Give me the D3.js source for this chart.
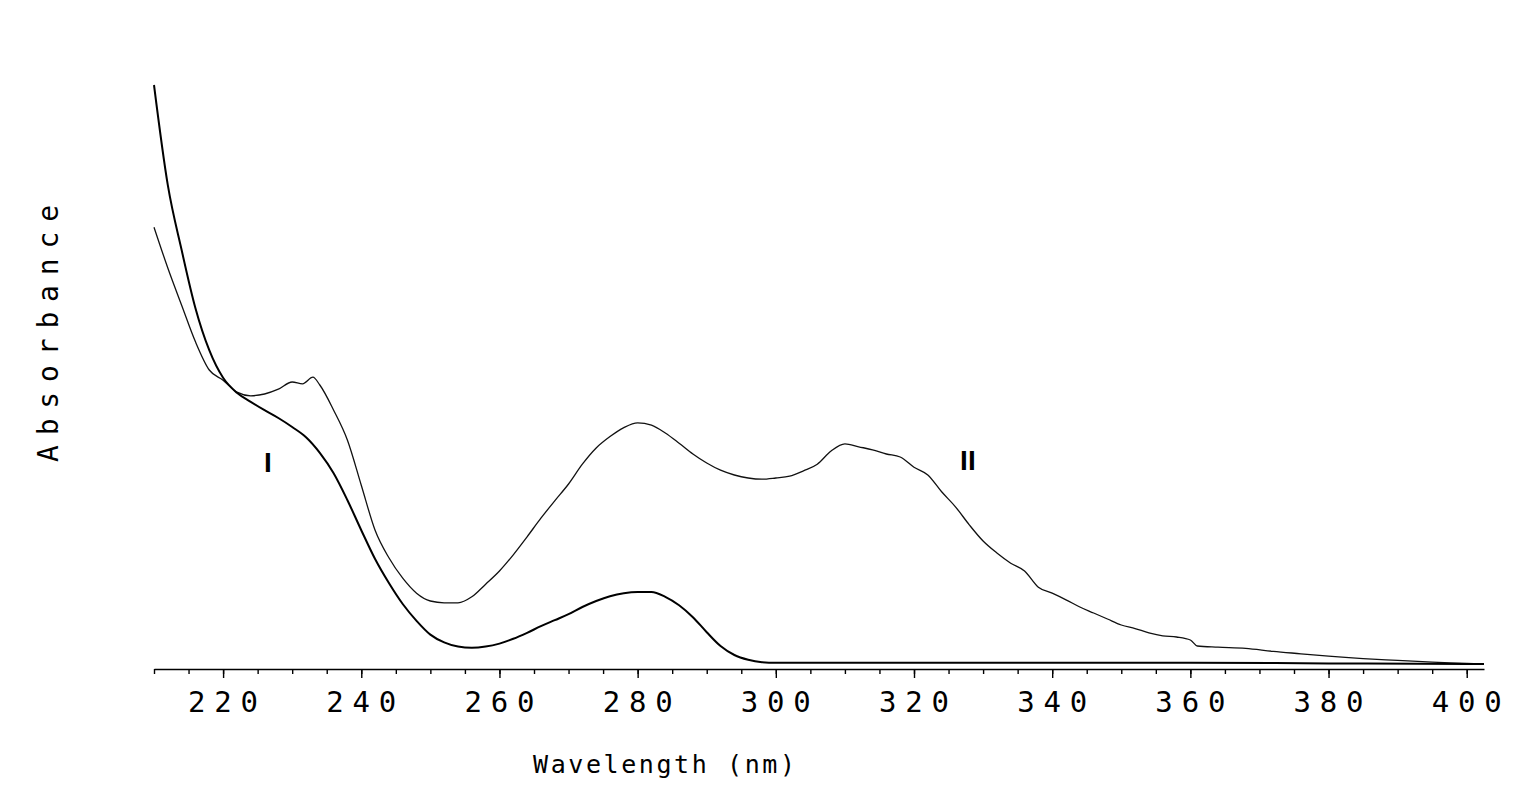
<!DOCTYPE html>
<html>
<head>
<meta charset="utf-8">
<script src="https://cdn.jsdelivr.net/npm/d3@7"></script>
<style>
  html, body { margin: 0; padding: 0; background: #fff; }
  svg { display: block; }
</style>
</head>
<body>
<div id="chart"></div>
<script>
// spectrum I (thick trace)
const wlI = [210, 212, 214, 216, 218, 220, 222, 224, 226, 228, 230, 232, 234, 236, 238, 240,
  242, 244, 246, 248, 250, 252, 254, 256, 258, 260, 262, 264, 266, 268, 270, 272, 274, 276,
  278, 280, 282, 284, 286, 288, 290, 292, 294, 296, 298, 300, 310, 320, 340, 360, 380, 400, 402.5];
const absI = [0.965, 0.798, 0.690, 0.593, 0.523, 0.477, 0.452, 0.437, 0.423, 0.410, 0.395, 0.378,
  0.352, 0.318, 0.273, 0.223, 0.175, 0.135, 0.100, 0.072, 0.049, 0.036, 0.029, 0.027, 0.029,
  0.034, 0.042, 0.052, 0.063, 0.073, 0.083, 0.095, 0.105, 0.113, 0.118, 0.120, 0.120, 0.112,
  0.098, 0.078, 0.053, 0.030, 0.015, 0.007, 0.003, 0.002, 0.002, 0.002, 0.002, 0.002, 0.001, 0.0, 0.0];

// spectrum II (thin trace)
const wlII = [210, 212, 214, 216, 218, 220, 222, 224, 226, 228, 230, 231.5, 233, 234, 236, 238,
  240, 242, 244, 246, 248, 250, 252, 254, 256, 258, 260, 262, 264, 266, 268, 270, 272, 274, 276,
  278, 280, 282, 284, 286, 288, 290, 292, 294, 296, 298, 300, 302, 304, 306, 308, 310, 312, 314,
  316, 318, 320, 322, 324, 326, 328, 330, 332, 334, 336, 338, 340, 342, 344, 346, 348, 350, 352,
  354, 356, 358, 360, 361, 364, 368, 372, 376, 380, 385, 390, 395, 400, 402];
const absII = [0.728, 0.660, 0.598, 0.537, 0.490, 0.473, 0.453, 0.447, 0.450, 0.458, 0.470, 0.467,
  0.478, 0.465, 0.423, 0.373, 0.298, 0.223, 0.177, 0.143, 0.118, 0.105, 0.102, 0.102, 0.112,
  0.133, 0.155, 0.182, 0.212, 0.243, 0.272, 0.300, 0.333, 0.360, 0.379, 0.394, 0.402, 0.398,
  0.385, 0.368, 0.350, 0.335, 0.323, 0.315, 0.310, 0.308, 0.310, 0.313, 0.322, 0.333, 0.355,
  0.367, 0.362, 0.357, 0.350, 0.345, 0.328, 0.315, 0.287, 0.262, 0.232, 0.205, 0.185, 0.168,
  0.155, 0.128, 0.118, 0.107, 0.095, 0.085, 0.075, 0.065, 0.059, 0.052, 0.047, 0.045, 0.040,
  0.030, 0.028, 0.026, 0.021, 0.017, 0.013, 0.009, 0.006, 0.003, 0.001, 0.0];

const tickMajor = [220, 240, 260, 280, 300, 320, 340, 360, 380, 400];
const tickMinor = d3.range(210, 405, 5);

const width = 1533;
const height = 797;

const x = d3.scaleLinear().domain([210, 402.5]).range([154, 1484]);
const y = d3.scaleLinear().domain([0, 1]).range([664, 64]);

const svg = d3.select('#chart')
  .append('svg')
  .attr('width', width)
  .attr('height', height);

const line = d3.line()
  .x((d) => x(d[0]))
  .y((d) => y(d[1]))
  .curve(d3.curveMonotoneX);

svg.append('path')
  .datum(d3.zip(wlII, absII))
  .attr('fill', 'none')
  .attr('stroke', '#111')
  .attr('stroke-width', 1.3)
  .attr('d', line);

svg.append('path')
  .datum(d3.zip(wlI, absI))
  .attr('fill', 'none')
  .attr('stroke', '#000')
  .attr('stroke-width', 2)
  .attr('d', line);

// x axis: minor ticks every 5 nm, longer ones every 20 nm
const axisY = 669;
svg.append('g')
  .attr('transform', `translate(0,${axisY})`)
  .call(d3.axisBottom(x).tickValues(tickMinor).tickSize(5).tickSizeOuter(0).tickFormat(''))
  .call((g) => g.select('.domain').attr('stroke-width', 1.6))
  .call((g) => g.selectAll('.tick line').attr('stroke-width', 1.4));

svg.append('g')
  .attr('transform', `translate(0,${axisY})`)
  .call(d3.axisBottom(x).tickValues(tickMajor).tickSize(9).tickFormat(''))
  .call((g) => g.select('.domain').remove())
  .call((g) => g.selectAll('.tick line').attr('stroke-width', 1.4));

svg.append('g')
  .selectAll('text')
  .data(tickMajor)
  .join('text')
  .attr('x', (d) => x(d) - 35)
  .attr('y', 712)
  .attr('textLength', 70)
  .attr('lengthAdjust', 'spacing')
  .attr('font-family', 'DejaVu Sans Mono, monospace')
  .attr('font-size', 29)
  .attr('fill', '#000')
  .text((d) => d);

svg.append('text')
  .attr('x', 533)
  .attr('y', 773)
  .attr('textLength', 262)
  .attr('lengthAdjust', 'spacing')
  .attr('font-family', 'DejaVu Sans Mono, monospace')
  .attr('font-size', 25)
  .attr('fill', '#000')
  .text('Wavelength (nm)');

svg.append('text')
  .attr('transform', 'translate(58,462) rotate(-90)')
  .attr('textLength', 257)
  .attr('lengthAdjust', 'spacing')
  .attr('font-family', 'DejaVu Sans Mono, monospace')
  .attr('font-size', 28)
  .attr('fill', '#000')
  .text('Absorbance');

// trace labels
const traceLabels = [['I', 226.5, 0.32], ['II', 327.8, 0.323]];
svg.append('g')
  .selectAll('text')
  .data(traceLabels)
  .join('text')
  .attr('x', (d) => x(d[1]))
  .attr('y', (d) => y(d[2]))
  .attr('text-anchor', 'middle')
  .attr('font-family', 'Liberation Sans, sans-serif')
  .attr('font-weight', 'bold')
  .attr('font-size', 28)
  .attr('fill', '#000')
  .text((d) => d[0]);
</script>
</body>
</html>
